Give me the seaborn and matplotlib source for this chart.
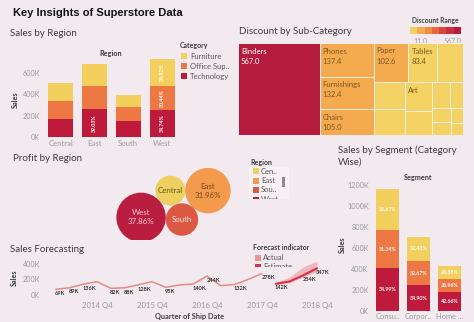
import numpy as np
import pandas as pd
import matplotlib
matplotlib.use("Agg")
import matplotlib.pyplot as plt
import seaborn as sns
from matplotlib.patches import Rectangle, Circle
from matplotlib.colors import ListedColormap, BoundaryNorm

# ---------------- data ----------------
regions = ["Central", "East", "South", "West"]
categories = ["Furniture", "Office Supplies", "Technology"]
category_legend = ["Furniture", "Office Sup..", "Technology"]
region_furniture = [163.80, 208.29, 117.30, 252.61]      # K
region_office = [167.03, 205.52, 125.65, 220.85]
region_technology = [170.42, 264.90, 148.77, 251.99]
region_labeled = [("East", "Technology"), ("West", "Technology"),
                  ("West", "Office Supplies"), ("West", "Furniture")]

subcategories = ["Binders", "Phones", "Furnishings", "Chairs", "Paper", "Tables",
                 "Appliances", "Storage", "Accessories", "Art", "Bookcases",
                 "Machines", "Labels", "Envelopes", "Fasteners", "Supplies", "Copiers"]
discounts = [567.0, 137.4, 132.4, 105.0, 102.6, 83.4, 77.6, 63.2, 60.8, 59.6,
             48.1, 35.2, 25.0, 20.4, 17.8, 14.6, 11.0]
treemap_label_mode = {"Binders": 2, "Phones": 2, "Furnishings": 2, "Chairs": 2,
                      "Paper": 2, "Tables": 2, "Art": 1}

profit_regions = ["Central", "East", "South", "West"]
profit_legend = ["Cen..", "East", "Sou..", "West"]
profit_values = [39706, 91523, 46749, 108418]

actual_quarters = [f"{y} Q{q}" for y in (2014, 2015, 2016, 2017) for q in (1, 2, 3, 4)]
actual_sales = [69, 89, 136, 170, 82, 88, 128, 170, 95, 126, 140, 244, 118, 132, 200, 278]
actual_labeled = [True, True, True, False, True, True, True, False,
                  True, False, True, True, False, True, False, True]
forecast_quarters = ["2018 Q1", "2018 Q2", "2018 Q3", "2018 Q4"]
forecast_sales = [142, 172, 254, 347]
forecast_low = [126, 158, 232, 305]
forecast_high = [160, 232, 365, 445]
forecast_labeled = [True, False, True, True]
forecast_ticks = ["2014 Q4", "2015 Q4", "2016 Q4", "2017 Q4", "2018 Q4"]

segments = ["Consumer", "Corporate", "Home Office"]
segment_short = ["Consu..", "Corpor..", "Home ..."]
segment_furniture = [391.05, 229.02, 121.93]
segment_office = [363.95, 230.68, 124.42]
segment_technology = [406.40, 246.45, 183.30]

# ---------------- style ----------------
BG = "#F3EAF0"
cat_colors = {"Furniture": "#F3CF5E", "Office Supplies": "#EE7843", "Technology": "#BE1A3C"}
region_colors = ["#EDD05F", "#F39A4C", "#DC5843", "#B91D3F"]
step_colors = ["#F3D163", "#F4AB50", "#F08B48", "#E86840", "#D9473F", "#C62F3E", "#B51B3D"]
TICK = "#9a9a9a"
DARK = "#3c3c3c"

sns.set_theme(style="white")
plt.rcParams["font.family"] = ["Lato", "DejaVu Sans"]

W, H = 474, 322
fig = plt.figure(figsize=(W / 100, H / 100), dpi=100, facecolor=BG)


def add_ax(x0, y0, x1, y1, **kw):
    ax = fig.add_axes([x0 / W, 1 - y1 / H, (x1 - x0) / W, (y1 - y0) / H], **kw)
    ax.set_facecolor("none")
    return ax


def clean(ax):
    for s in ax.spines.values():
        s.set_visible(False)
    ax.tick_params(length=0, colors=TICK, labelsize=5.2)
    ax.set_xlabel("")
    ax.set_ylabel("")


ov = fig.add_axes([0, 0, 1, 1], zorder=10)
ov.set_xlim(0, W)
ov.set_ylim(H, 0)
ov.axis("off")
ov.set_facecolor("none")


def t(x, y, s, **kw):
    kw.setdefault("va", "center")
    kw.setdefault("ha", "left")
    ov.text(x, y, s, **kw)


# ---------------- titles ----------------
t(13, 13, "Key Insights of Superstore Data", family=["Liberation Sans", "DejaVu Sans"],
  weight="bold", size=8, color="#111111")
t(10, 33, "Sales by Region", size=7, color=DARK)
t(239, 31, "Discount by Sub-Category", size=7, color=DARK)
t(13, 158, "Profit by Region", size=7, color=DARK)
t(10, 249, "Sales Forecasting", size=7, color=DARK)
t(338, 150, "Sales by Segment (Category", size=7, color=DARK)
t(338, 162, "Wise)", size=7, color=DARK)


# ---------------- stacked bars helper ----------------
def stacked(ax, names, furn, off, tech, labeled, rotate):
    df = pd.DataFrame({"name": names, "Technology": tech, "Office Supplies": off,
                       "Furniture": furn})
    df["c_tech"] = df["Technology"]
    df["c_off"] = df["c_tech"] + df["Office Supplies"]
    df["c_furn"] = df["c_off"] + df["Furniture"]
    for col, cat in (("c_furn", "Furniture"), ("c_off", "Office Supplies"), ("c_tech", "Technology")):
        sns.barplot(data=df, x="name", y=col, color=cat_colors[cat], width=0.74,
                    saturation=1, errorbar=None, order=names, ax=ax, linewidth=0)
    total = df["c_furn"]
    for i, row in df.iterrows():
        bottoms = {"Technology": 0, "Office Supplies": row["c_tech"], "Furniture": row["c_off"]}
        for cat in categories:
            if labeled is not None and (row["name"], cat) not in labeled:
                continue
            mid = bottoms[cat] + row[cat] / 2
            pct = row[cat] / total[i] * 100
            ax.text(i, mid, f"{pct:.2f}%", ha="center", va="center",
                    rotation=90 if rotate else 0, color="white",
                    size=3.8, weight="bold")
    clean(ax)
    ax.set_xlim(-0.5, len(names) - 0.5)


# ---------------- Sales by Region ----------------
ax1 = add_ax(43.6, 50, 179, 137)
stacked(ax1, regions, region_furniture, region_office, region_technology, region_labeled, True)
ax1.set_ylim(0, (137 - 50) / 21.5 * 200)
ax1.set_yticks([0, 200, 400, 600])
ax1.set_yticklabels(["0K", "200K", "400K", "600K"])
ax1.tick_params(axis="y", pad=2.6)
ax1.tick_params(axis="x", pad=2.5, labelsize=5.6)
t(111, 53, "Region", ha="center", size=5.2, weight="bold", color=DARK)
t(15, 100, "Sales", ha="center", rotation=90, size=5.2, weight="bold", color=DARK)
t(180, 45, "Category", size=5, weight="bold", color=DARK)
for k, (cat, lab) in enumerate(zip(categories, category_legend)):
    yy = 56 + 10 * k
    ov.add_patch(Rectangle((181.5, yy - 3), 6, 6, color=cat_colors[cat], lw=0))
    t(190, yy, lab, size=5.5, color="#555555")


# ---------------- Treemap ----------------
def squarify(values, x, y, w, h, thresh=2.5):
    scale = w * h / float(sum(values))
    areas = [v * scale for v in values]
    rects, i = [], 0

    def worst(row, short):
        s = sum(row)
        side = s / short
        return max(max(side / (a / side), (a / side) / side) for a in row)

    while i < len(areas):
        short = min(w, h)
        row = [areas[i]]
        i += 1
        while i < len(areas):
            cand = row + [areas[i]]
            wc = worst(cand, short)
            if wc <= worst(row, short) or wc <= thresh:
                row = cand
                i += 1
            else:
                break
        thick = sum(row) / short
        if w >= h:
            yy = y
            for a in row:
                rects.append((x, yy, thick, a / thick))
                yy += a / thick
            x += thick
            w -= thick
        else:
            xx = x
            for a in row:
                rects.append((xx, y, a / thick, thick))
                xx += a / thick
            y += thick
            h -= thick
    return rects


cmap_step = ListedColormap(step_colors)
norm_step = BoundaryNorm(np.linspace(min(discounts), max(discounts), len(step_colors) + 1),
                         len(step_colors), clip=True)

tx0, ty0, tx1, ty1 = 238, 43, 463, 135
ax2 = add_ax(tx0, ty0, tx1, ty1, zorder=12)
ax2.set_xlim(tx0, tx1)
ax2.set_ylim(ty1, ty0)
ax2.axis("off")
rects = squarify(discounts, tx0, ty0, tx1 - tx0, ty1 - ty0)
for name, val, (rx, ry, rw, rh) in zip(subcategories, discounts, rects):
    col = cmap_step(norm_step(val))
    ax2.add_patch(Rectangle((rx, ry), rw, rh, facecolor=col, edgecolor="#F8EFE6", lw=0.7))
    mode = treemap_label_mode.get(name, 0)
    tc = "white" if val > 300 else "#7d5620"
    if mode >= 1:
        ax2.text(rx + 3, ry + 8, name, size=5.5, color=tc, va="center", ha="left")
    if mode >= 2:
        ax2.text(rx + 3, ry + 18, f"{val:.1f}", size=5.5, color=tc, va="center", ha="left")

t(412, 20, "Discount Range", size=4.8, weight="bold", color=DARK)
axl = add_ax(410, 27, 461, 34, zorder=11)
axl.imshow(np.arange(len(step_colors))[None, :], cmap=cmap_step, aspect="auto")
axl.axis("off")
axlt = add_ax(400, 35, 470, 43, zorder=11)
axlt.set_xlim(400, 470)
axlt.set_ylim(43, 35)
axlt.axis("off")
axlt.text(413, 41, f"{min(discounts):.1f}", size=5, color=TICK, va="center", ha="left", clip_on=True)
axlt.text(461, 41, f"{max(discounts):.1f}", size=5, color=TICK, va="center", ha="right", clip_on=True)


# ---------------- Profit by Region (packed bubbles) ----------------
def pack_circles(radii, squash=2.0):
    pos = [np.array([0.0, 0.0])]
    if len(radii) > 1:
        pos.append(np.array([radii[0] + radii[1], 0.0]))
    for k in range(2, len(radii)):
        r = radii[k]
        P = np.array(pos)
        wts = np.array(radii[:k]) ** 2
        cen = (P * wts[:, None]).sum(0) / wts.sum()
        best, best_score = None, np.inf
        for i in range(k):
            for j in range(i + 1, k):
                a, b = P[i], P[j]
                ra, rb = radii[i] + r, radii[j] + r
                d = np.linalg.norm(b - a)
                if d > ra + rb or d < abs(ra - rb) or d == 0:
                    continue
                x = (ra ** 2 - rb ** 2 + d ** 2) / (2 * d)
                hh = np.sqrt(max(ra ** 2 - x ** 2, 0))
                u = (b - a) / d
                n = np.array([-u[1], u[0]])
                for s in (1, -1):
                    c = a + x * u + s * hh * n
                    ok = all(np.linalg.norm(c - P[m]) >= radii[m] + r - 1e-4 for m in range(k))
                    if ok:
                        score = (c[0] - cen[0]) ** 2 + (squash * (c[1] - cen[1])) ** 2 - 1e-6 * c[1]
                        if score < best_score:
                            best, best_score = c, score
        pos.append(best)
    return np.array(pos)


px_per_sqrt = 24.7 / np.sqrt(max(profit_values))
radii = [px_per_sqrt * np.sqrt(v) for v in profit_values]
P = pack_circles(radii)
rr = np.array(radii)
bx0, bx1 = (P[:, 0] - rr).min(), (P[:, 0] + rr).max()
by0, by1 = (P[:, 1] - rr).min(), (P[:, 1] + rr).max()
P[:, 0] += 173.5 - (bx0 + bx1) / 2
P[:, 1] += 205 - (by0 + by1) / 2

ax3 = add_ax(0, 165, 300, 240)
ax3.set_xlim(0, 300)
ax3.set_ylim(240, 165)
ax3.axis("off")
total_profit = sum(profit_values)
bubble_text = {"Central": "#6b5424", "East": "#7a4520", "South": "#fbe3e3", "West": "#f6c9d2"}
for name, val, (cx, cy), r, col in zip(profit_regions, profit_values, P, radii, region_colors):
    ax3.add_patch(Circle((cx, cy), r, facecolor=col, edgecolor="none"))
    pct = val / total_profit * 100
    lab = f"{name}\n{pct:.2f}%" if pct > 25 else name
    ax3.text(cx, cy, lab, ha="center", va="center", size=5.7, linespacing=1.3,
             color=bubble_text[name])

axpl = add_ax(246, 155, 300, 198.5, zorder=11)
axpl.set_xlim(246, 300)
axpl.set_ylim(198.5, 155)
axpl.axis("off")
axpl.add_patch(Rectangle((249, 167), 40, 40, facecolor="#F7F1F5", lw=0, clip_on=True))
axpl.text(250, 162, "Region", size=5, weight="bold", color=DARK, va="center", clip_on=True)
for k, (lab, col) in enumerate(zip(profit_legend, region_colors)):
    yy = 171 + 9.5 * k
    axpl.add_patch(Rectangle((252.5, yy - 3), 6, 6, color=col, lw=0, clip_on=True))
    axpl.text(261, yy, lab, size=5.5, color="#555555", va="center", clip_on=True)
axpl.add_patch(Rectangle((281.5, 176.5), 3, 10.5, color="#8c8c8c", lw=0))


# ---------------- Sales Forecasting ----------------
all_quarters = actual_quarters + forecast_quarters
ax4 = add_ax(45, 255, 335, 298)
xa = [all_quarters.index(q) for q in actual_quarters]
xf = [all_quarters.index(q) for q in forecast_quarters]
ax4.fill_between(xf, forecast_low, forecast_high, color="#F2A7AC", alpha=0.75, lw=0)
sns.lineplot(x=xa, y=actual_sales, color="#E68A86", lw=1.1, ax=ax4)
sns.lineplot(x=xf, y=forecast_sales, color="#D7344A", lw=1.5, ax=ax4)
for xs, ys, flags in ((xa, actual_sales, actual_labeled), (xf, forecast_sales, forecast_labeled)):
    for x, y, f in zip(xs, ys, flags):
        if f:
            ax4.annotate(f"{y:.0f}K", (x, y), xytext=(-0.5, -1.2), textcoords="offset points",
                         ha="left", va="top", size=4.1, weight="bold", color="#333333")
clean(ax4)
ax4.set_xlim((45 - 55.75) / 13.75, (335 - 55.75) / 13.75)
ax4.set_ylim(-(298 - 294.5) / 0.0755, (294.5 - 255) / 0.0755)
ax4.set_xticks([all_quarters.index(q) for q in forecast_ticks])
ax4.set_xticklabels(forecast_ticks)
ax4.set_yticks([0, 200, 400])
ax4.set_yticklabels(["0K", "200K", "400K"])
ax4.tick_params(axis="y", pad=3.5)
ax4.tick_params(axis="x", pad=2.6, labelsize=5.6)
t(190, 316, "Quarter of Ship Date", ha="center", size=5.3, weight="bold", color=DARK)
t(14, 278, "Sales", ha="center", rotation=90, size=5.2, weight="bold", color=DARK)

axfl = add_ax(250, 240, 330, 266.8, zorder=11)
axfl.set_xlim(250, 330)
axfl.set_ylim(266.8, 240)
axfl.axis("off")
axfl.text(253, 247, "Forecast indicator", size=5, weight="bold", color=DARK, va="center", clip_on=True)
for k, (lab, col) in enumerate(zip(["Actual", "Estimate"], ["#E9948F", "#D8324A"])):
    yy = 257.5 + 9 * k
    axfl.add_patch(Rectangle((254.5, yy - 3), 6, 6, color=col, lw=0, clip_on=True))
    axfl.text(263, yy, lab, size=5.5, color="#555555", va="center", clip_on=True)


# ---------------- Sales by Segment ----------------
ax5 = add_ax(372, 180, 465, 311)
stacked(ax5, segments, segment_furniture, segment_office, segment_technology, None, False)
ax5.set_xticks(range(len(segments)))
ax5.set_xticklabels(segment_short)
ax5.set_ylim(0, (311 - 180) / 21 * 200)
yt = [0, 200, 400, 600, 800, 1000, 1200]
ax5.set_yticks(yt)
ax5.set_yticklabels([f"{v}K" for v in yt])
ax5.tick_params(axis="y", pad=2.3)
ax5.tick_params(axis="x", pad=1.5, labelsize=5.4)
t(418, 177, "Segment", ha="center", size=5.2, weight="bold", color=DARK)
t(342, 245, "Sales", ha="center", rotation=90, size=5.2, weight="bold", color=DARK)

fig.savefig("out.png", dpi=100, facecolor=BG)
